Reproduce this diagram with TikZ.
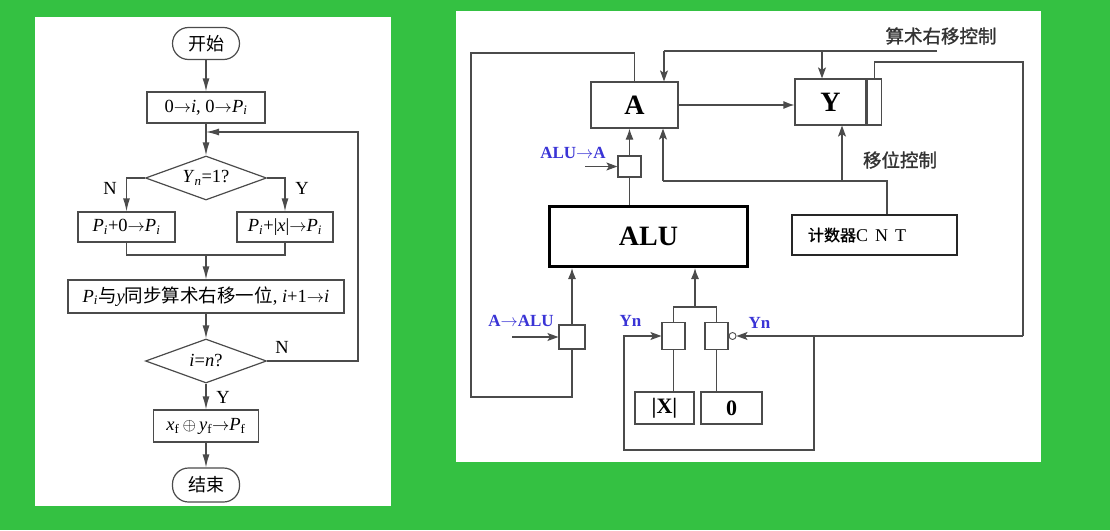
\documentclass[tikz,border=0pt]{standalone}
\usepackage{fontspec}
\setmainfont{Liberation Serif}
\newfontfamily\cjk{Noto Sans CJK SC}
\newfontfamily\cjkb{Noto Sans CJK SC}[FakeBold=1.2]
\usetikzlibrary{arrows.meta,shapes.geometric}
\definecolor{bggreen}{RGB}{52,193,66}
\definecolor{sigblue}{RGB}{58,52,214}
\definecolor{wire}{RGB}{75,75,75}
\newcommand\Psub[1]{\textit{P}\textsubscript{\textit{#1}}}
\newcommand\fsz[1]{\fontsize{#1}{#1}\selectfont}

\begin{document}
\begin{tikzpicture}[x=1pt,y=-1pt,line width=1.2pt,draw=wire,font=\fsz{18.5},
  box/.style={draw=wire,inner sep=0pt},
  term/.style={box,rounded corners=16pt,minimum width=67pt,minimum height=32pt},
  test/.style={box,diamond,aspect=2.75,minimum width=121pt,minimum height=44pt},
  arr/.style={-{Latex[length=13pt,width=7pt]}},
  darr/.style={-{Latex[length=11pt,width=8pt]}},
  carr/.style={-{Stealth[length=11pt,width=8pt,inset=2.5pt]}},
  sig/.style={text=sigblue,font=\fsz{17}\bfseries}]
\useasboundingbox (0,0) rectangle (1110,530);
\fill[bggreen] (0,0) rectangle (1110,530);
\fill[white] (35,17) rectangle (391,506);
\fill[white] (456,11) rectangle (1041,462);

\node (start) [term,font=\fsz{18}\cjk] at (206,43.5) {开始};
\node (init) [box,minimum width=118pt,minimum height=31pt] at (206,107.5)
    {0$\rightarrow$\textit{i}, 0$\rightarrow$\Psub{i}};
\node (q1) [test] at (206,178) {\textit{Y}\textsubscript{\textit{n}}=1?};
\node (add0) [box,minimum width=97pt,minimum height=30pt] at (126.5,227)
    {\Psub{i}+0$\rightarrow$\Psub{i}};
\node (addx) [box,minimum width=96pt,minimum height=30pt] at (285,227)
    {\Psub{i}+|\textit{x}|$\rightarrow$\Psub{i}};
\node (shift) [box,minimum width=276pt,minimum height=33pt] at (206,296.5)
    {\Psub{i}{\cjk 与}\textit{y}{\cjk 同步算术右移一位}, \textit{i}+1$\rightarrow$\textit{i}};
\node (q2) [test] at (206,361) {\textit{i}=\textit{n}?};
\node (sign) [box,minimum width=105pt,minimum height=32pt] at (206,426)
    {\textit{x}\textsubscript{f}\,$\oplus$\,\textit{y}\textsubscript{f}$\rightarrow$\textit{P}\textsubscript{f}};
\node (stop) [term,minimum height=34pt,font=\fsz{18}\cjk] at (206,485) {结束};
\node (n1) at (110,188) {N};
\node (y1) at (302,188) {Y};
\node (n2) at (282,347) {N};
\node (y2) at (223,397) {Y};

\coordinate (merge) at (206,132);
\coordinate (back) at (358,132);
\coordinate (join) at (206,255);
\draw[arr] (start) -- (init);
\draw[arr] (init) -- (q1);
\draw[arr] (q1.west) -| (add0);
\draw[arr] (q1.east) -| (addx);
\draw (add0) |- (join) -| (addx);
\draw[arr] (join) -- (shift);
\draw[arr] (shift) -- (q2);
\draw[arr] (q2.east) -| (back) -- (merge);
\draw[arr] (q2) -- (sign);
\draw[arr] (sign) -- (stop);

\node (regA) [box,minimum width=87pt,minimum height=46pt,font=\fsz{28}\bfseries] at (634.5,105) {A};
\node (regY) [box,minimum width=71pt,minimum height=46pt,font=\fsz{28}\bfseries] at (830.5,102) {Y};
\node (regYs) [box,minimum width=14pt,minimum height=46pt,anchor=west] at (regY.east) {};
\node (alu) [draw=black,line width=3pt,inner sep=0pt,minimum width=198pt,minimum height=60pt,
    font=\fsz{28}\bfseries] at (648.5,236.5) {ALU};
\node (cnt) [draw=black!85,line width=2pt,minimum height=40pt,text width=133pt,inner xsep=16pt,
    align=left,font=\fsz{18}] at (874.5,235) {{\cjkb\fsz{16}计数器}C\hspace{7pt}N\hspace{7pt}T};
\node (gAA) [box,minimum width=23pt,minimum height=21pt] at (629.5,166.5) {};
\node (gAL) [box,minimum width=26pt,minimum height=24pt] at (572,337) {};
\node (gX) [box,minimum width=23pt,minimum height=27pt] at (673.5,336) {};
\node (g0) [box,minimum width=23pt,minimum height=27pt] at (716.5,336) {};
\node (inv) [circle,draw=wire,line width=.9pt,inner sep=0pt,minimum size=7pt,anchor=west] at (g0.east) {};
\node (bX) [box,minimum width=59pt,minimum height=32pt,font=\fsz{22}\bfseries] at (664.5,408) {|X|};
\node (bz) [box,minimum width=61pt,minimum height=32pt,font=\fsz{22}\bfseries] at (731.5,408) {0};
\node (lAA) [sig] at (573,153) {ALU$\rightarrow$A};
\node (lAL) [sig] at (521,321) {A$\rightarrow$ALU};
\node (lYa) [sig] at (630.5,321) {Yn};
\node (lYb) [sig] at (759.5,323) {Yn};
\node (lsr) [font=\fsz{18.5}\cjkb,text=black!80] at (941,36) {算术右移控制};
\node (lsc) [font=\fsz{18.5}\cjkb,text=black!80] at (900,160) {移位控制};

\coordinate (inAA) at (585,166.5);
\coordinate (inAL) at (512,337);
\coordinate (gj) at (695,307);
\coordinate (fbl) at (471,397);
\coordinate (fbt) at (471,53);
\coordinate (srr) at (937,51);
\coordinate (srA) at (664,51);
\coordinate (srY) at (822,51);
\coordinate (scr) at (887,181);
\coordinate (scA) at (663,181);
\coordinate (scY) at (842,181);
\coordinate (ytr) at (1023,62);
\coordinate (ybr) at (1023,336);
\coordinate (ysp) at (814,336);
\coordinate (ybl) at (624,450);
\draw[carr] (inAA) -- (gAA);
\draw[carr] (inAL) -- (gAL);
\draw (alu.north -| gAA) -- (gAA);
\draw[darr] (gAA) -- (gAA |- regA.south);
\draw[darr] (gAL) -- (gAL |- alu.south);
\draw (gX) |- (gj) -| (g0);
\draw[darr] (gj) -- (gj |- alu.south);
\draw (gX) -- (gX |- bX.north);
\draw (g0) -- (g0 |- bz.north);
\draw (gAL) |- (fbl) -- (fbt) -| (regA);
\draw[darr] (regA) -- (regA -| regY.west);
\draw (srr) -- (srA);
\draw[carr] (srA) -- (srA |- regA.north);
\draw[carr] (srY) -- (srY |- regY.north);
\draw (cnt.north -| scr) -- (scr) -- (scA);
\draw[carr] (scA) -- (scA |- regA.south);
\draw[carr] (scY) -- (scY |- regY.south);
\draw (regYs) |- (ytr) -- (ybr);
\draw[carr] (ybr) -- (inv);
\draw[carr] (ysp) |- (ybl) |- (gX);
\end{tikzpicture}
\end{document}
